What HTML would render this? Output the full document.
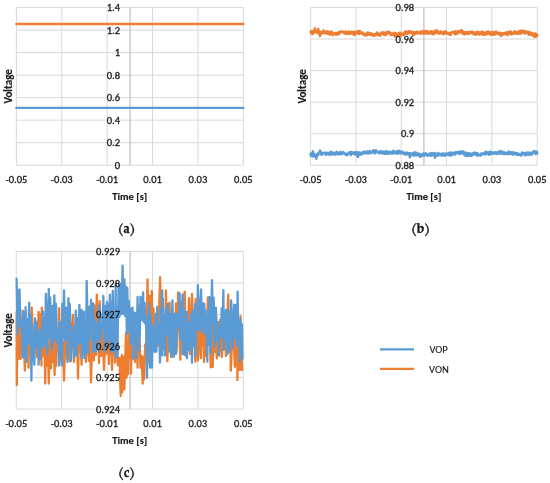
<!DOCTYPE html>
<html><head><meta charset="utf-8"><title>Figure</title>
<style>html,body{margin:0;padding:0;background:#fff;overflow:hidden;width:550px;height:483px;} svg{display:block;}</style>
</head><body>
<svg width="550" height="483" viewBox="0 0 550 483" font-family="Carlito, &apos;Liberation Sans&apos;, sans-serif" fill="#1a1a1a" stroke="#1a1a1a" stroke-width="0.3">
<rect width="550" height="483" fill="#fff" stroke="none"/>
<line x1="16.4" y1="7.60" x2="243.3" y2="7.60" stroke="#D9D9D9" stroke-width="1"/>
<line x1="16.4" y1="30.11" x2="243.3" y2="30.11" stroke="#D9D9D9" stroke-width="1"/>
<line x1="16.4" y1="52.63" x2="243.3" y2="52.63" stroke="#D9D9D9" stroke-width="1"/>
<line x1="16.4" y1="75.14" x2="243.3" y2="75.14" stroke="#D9D9D9" stroke-width="1"/>
<line x1="16.4" y1="97.66" x2="243.3" y2="97.66" stroke="#D9D9D9" stroke-width="1"/>
<line x1="16.4" y1="120.17" x2="243.3" y2="120.17" stroke="#D9D9D9" stroke-width="1"/>
<line x1="16.4" y1="142.69" x2="243.3" y2="142.69" stroke="#D9D9D9" stroke-width="1"/>
<line x1="16.4" y1="165.20" x2="243.3" y2="165.20" stroke="#D9D9D9" stroke-width="1"/>
<line x1="16.40" y1="7.6" x2="16.40" y2="165.2" stroke="#D9D9D9" stroke-width="1"/>
<line x1="61.78" y1="7.6" x2="61.78" y2="165.2" stroke="#D9D9D9" stroke-width="1"/>
<line x1="107.16" y1="7.6" x2="107.16" y2="165.2" stroke="#D9D9D9" stroke-width="1"/>
<line x1="152.54" y1="7.6" x2="152.54" y2="165.2" stroke="#D9D9D9" stroke-width="1"/>
<line x1="197.92" y1="7.6" x2="197.92" y2="165.2" stroke="#D9D9D9" stroke-width="1"/>
<line x1="243.30" y1="7.6" x2="243.30" y2="165.2" stroke="#D9D9D9" stroke-width="1"/>
<line x1="130.10" y1="7.6" x2="130.10" y2="165.2" stroke="#BFBFBF" stroke-width="1.2"/>
<polyline points="16.40,23.95 243.30,23.95" fill="none" stroke="#ED7D31" stroke-width="2.5" stroke-linejoin="round" stroke-linecap="round"/>
<polyline points="16.40,107.85 243.30,107.85" fill="none" stroke="#5B9BD5" stroke-width="2.4" stroke-linejoin="round" stroke-linecap="round"/>
<text x="120.0" y="7.60" dy="0.35em" text-anchor="end" font-size="10.5">1.4</text>
<text x="120.0" y="30.11" dy="0.35em" text-anchor="end" font-size="10.5">1.2</text>
<text x="120.0" y="52.63" dy="0.35em" text-anchor="end" font-size="10.5">1</text>
<text x="120.0" y="75.14" dy="0.35em" text-anchor="end" font-size="10.5">0.8</text>
<text x="120.0" y="97.66" dy="0.35em" text-anchor="end" font-size="10.5">0.6</text>
<text x="120.0" y="120.17" dy="0.35em" text-anchor="end" font-size="10.5">0.4</text>
<text x="120.0" y="142.69" dy="0.35em" text-anchor="end" font-size="10.5">0.2</text>
<text x="120.0" y="165.20" dy="0.35em" text-anchor="end" font-size="10.5">0</text>
<text x="16.40" y="179.3" dy="0.35em" text-anchor="middle" font-size="10.5">-0.05</text>
<text x="61.78" y="179.3" dy="0.35em" text-anchor="middle" font-size="10.5">-0.03</text>
<text x="107.16" y="179.3" dy="0.35em" text-anchor="middle" font-size="10.5">-0.01</text>
<text x="152.54" y="179.3" dy="0.35em" text-anchor="middle" font-size="10.5">0.01</text>
<text x="197.92" y="179.3" dy="0.35em" text-anchor="middle" font-size="10.5">0.03</text>
<text x="243.30" y="179.3" dy="0.35em" text-anchor="middle" font-size="10.5">0.05</text>
<line x1="310.6" y1="7.50" x2="537.2" y2="7.50" stroke="#D9D9D9" stroke-width="1"/>
<line x1="310.6" y1="39.06" x2="537.2" y2="39.06" stroke="#D9D9D9" stroke-width="1"/>
<line x1="310.6" y1="70.62" x2="537.2" y2="70.62" stroke="#D9D9D9" stroke-width="1"/>
<line x1="310.6" y1="102.18" x2="537.2" y2="102.18" stroke="#D9D9D9" stroke-width="1"/>
<line x1="310.6" y1="133.74" x2="537.2" y2="133.74" stroke="#D9D9D9" stroke-width="1"/>
<line x1="310.6" y1="165.30" x2="537.2" y2="165.30" stroke="#D9D9D9" stroke-width="1"/>
<line x1="310.60" y1="7.5" x2="310.60" y2="165.3" stroke="#D9D9D9" stroke-width="1"/>
<line x1="355.92" y1="7.5" x2="355.92" y2="165.3" stroke="#D9D9D9" stroke-width="1"/>
<line x1="401.24" y1="7.5" x2="401.24" y2="165.3" stroke="#D9D9D9" stroke-width="1"/>
<line x1="446.56" y1="7.5" x2="446.56" y2="165.3" stroke="#D9D9D9" stroke-width="1"/>
<line x1="491.88" y1="7.5" x2="491.88" y2="165.3" stroke="#D9D9D9" stroke-width="1"/>
<line x1="537.20" y1="7.5" x2="537.20" y2="165.3" stroke="#D9D9D9" stroke-width="1"/>
<line x1="423.90" y1="7.5" x2="423.90" y2="165.3" stroke="#BFBFBF" stroke-width="1.2"/>
<polyline points="310.60,31.82 311.07,32.85 311.55,30.98 312.02,33.52 312.49,34.05 312.97,32.61 313.44,32.92 313.91,30.83 314.38,31.38 314.86,28.60 315.33,31.58 315.80,31.26 316.28,32.35 316.75,31.43 317.22,32.33 317.70,32.80 318.17,29.00 318.64,33.36 319.12,31.19 319.59,31.60 320.06,36.00 320.53,32.14 321.01,32.02 321.48,32.69 321.95,32.56 322.43,33.11 322.90,32.70 323.37,30.59 323.85,33.23 324.32,31.74 324.79,32.52 325.27,31.67 325.74,32.70 326.21,33.36 326.68,32.01 327.16,31.48 327.63,33.68 328.10,31.52 328.58,33.60 329.05,32.40 329.52,33.41 330.00,34.55 330.47,33.29 330.94,31.61 331.42,33.47 331.89,32.25 332.36,33.10 332.83,35.12 333.31,33.65 333.78,33.62 334.25,33.52 334.73,33.48 335.20,33.13 335.67,33.92 336.15,34.73 336.62,33.49 337.09,33.11 337.56,33.60 338.04,34.04 338.51,32.26 338.98,33.98 339.46,32.80 339.93,31.71 340.40,31.50 340.88,31.88 341.35,32.11 341.82,31.78 342.30,31.63 342.77,31.51 343.24,32.05 343.71,32.70 344.19,33.21 344.66,33.41 345.13,31.82 345.61,33.35 346.08,31.70 346.55,33.86 347.03,32.78 347.50,32.50 347.97,33.32 348.45,32.14 348.92,31.62 349.39,33.59 349.86,33.66 350.34,33.66 350.81,33.34 351.28,31.83 351.76,32.17 352.23,32.43 352.70,32.53 353.18,33.97 353.65,31.78 354.12,34.56 354.60,34.89 355.07,34.23 355.54,32.21 356.01,33.51 356.49,32.62 356.96,31.67 357.43,31.35 357.91,33.47 358.38,30.99 358.85,33.96 359.33,33.64 359.80,31.08 360.27,33.22 360.75,33.16 361.22,32.99 361.69,32.94 362.16,32.49 362.64,33.01 363.11,34.46 363.58,33.65 364.06,34.70 364.53,35.25 365.00,35.24 365.48,34.63 365.95,35.29 366.42,33.56 366.90,34.36 367.37,34.90 367.84,32.60 368.31,33.07 368.79,32.91 369.26,33.34 369.73,34.50 370.21,33.93 370.68,35.00 371.15,33.40 371.63,33.74 372.10,35.15 372.57,34.30 373.05,34.37 373.52,35.13 373.99,35.76 374.46,35.00 374.94,34.45 375.41,35.16 375.88,34.10 376.36,33.58 376.83,32.72 377.30,33.77 377.78,35.02 378.25,33.53 378.72,33.50 379.19,33.89 379.67,34.77 380.14,35.68 380.61,35.16 381.09,34.22 381.56,32.62 382.03,33.11 382.51,32.83 382.98,32.67 383.45,32.43 383.93,34.76 384.40,34.42 384.87,35.06 385.34,35.08 385.82,32.51 386.29,34.55 386.76,32.34 387.24,32.16 387.71,32.47 388.18,31.91 388.66,31.66 389.13,33.53 389.60,32.77 390.08,32.54 390.55,33.05 391.02,35.09 391.49,33.56 391.97,34.50 392.44,34.66 392.91,33.80 393.39,34.20 393.86,32.74 394.33,34.82 394.81,36.50 395.28,34.99 395.75,33.45 396.23,34.80 396.70,35.05 397.17,35.99 397.64,34.20 398.12,35.85 398.59,33.69 399.06,32.98 399.54,33.24 400.01,33.87 400.48,32.96 400.96,35.83 401.43,33.81 401.90,34.91 402.38,33.84 402.85,34.24 403.32,34.34 403.79,34.78 404.27,32.32 404.74,33.79 405.21,33.94 405.69,31.60 406.16,31.55 406.63,33.34 407.11,32.22 407.58,33.73 408.05,33.23 408.53,31.43 409.00,32.36 409.47,32.68 409.94,31.22 410.42,32.13 410.89,31.61 411.36,32.96 411.84,33.11 412.31,31.78 412.78,31.78 413.26,34.53 413.73,34.80 414.20,33.01 414.68,32.84 415.15,33.67 415.62,32.16 416.09,33.37 416.57,33.02 417.04,31.61 417.51,33.28 417.99,33.17 418.46,32.94 418.93,32.85 419.41,33.10 419.88,31.80 420.35,32.48 420.83,33.58 421.30,33.11 421.77,32.36 422.24,31.12 422.72,33.26 423.19,33.33 423.66,31.90 424.14,33.50 424.61,31.14 425.08,33.23 425.56,31.95 426.03,32.44 426.50,33.34 426.97,31.05 427.45,31.87 427.92,33.50 428.39,33.35 428.87,32.40 429.34,33.48 429.81,33.08 430.29,31.36 430.76,32.47 431.23,32.72 431.71,33.46 432.18,31.31 432.65,34.30 433.12,32.14 433.60,32.73 434.07,33.80 434.54,33.47 435.02,32.25 435.49,30.56 435.96,32.84 436.44,32.06 436.91,31.78 437.38,30.67 437.86,32.42 438.33,32.53 438.80,33.63 439.27,33.27 439.75,32.72 440.22,31.77 440.69,31.42 441.17,31.80 441.64,33.51 442.11,33.58 442.59,32.81 443.06,33.66 443.53,32.37 444.01,34.23 444.48,32.55 444.95,31.67 445.42,31.33 445.90,31.93 446.37,33.12 446.84,32.88 447.32,33.42 447.79,33.78 448.26,32.99 448.74,34.21 449.21,33.53 449.68,34.05 450.16,33.04 450.63,34.80 451.10,32.69 451.57,32.65 452.05,32.47 452.52,31.83 452.99,32.08 453.47,31.96 453.94,31.95 454.41,33.74 454.89,31.70 455.36,31.38 455.83,34.36 456.31,32.79 456.78,31.86 457.25,31.53 457.72,31.12 458.20,33.35 458.67,32.17 459.14,31.64 459.62,31.59 460.09,31.94 460.56,30.97 461.04,32.41 461.51,30.24 461.98,31.04 462.46,30.81 462.93,33.91 463.40,31.93 463.87,34.11 464.35,34.34 464.82,32.38 465.29,33.18 465.77,32.18 466.24,33.76 466.71,32.19 467.19,33.29 467.66,33.50 468.13,33.34 468.61,33.98 469.08,31.94 469.55,33.06 470.02,32.19 470.50,33.04 470.97,32.94 471.44,32.63 471.92,31.53 472.39,32.64 472.86,33.66 473.34,32.15 473.81,34.11 474.28,34.11 474.75,32.68 475.23,32.73 475.70,32.66 476.17,34.69 476.65,32.14 477.12,31.95 477.59,33.66 478.07,32.12 478.54,33.69 479.01,32.35 479.49,34.60 479.96,32.93 480.43,34.28 480.90,33.19 481.38,31.89 481.85,33.93 482.32,31.80 482.80,32.58 483.27,34.73 483.74,32.76 484.22,34.65 484.69,34.12 485.16,34.22 485.64,32.76 486.11,32.00 486.58,34.32 487.05,32.20 487.53,33.63 488.00,31.62 488.47,31.54 488.95,33.30 489.42,33.62 489.89,33.32 490.37,34.59 490.84,32.72 491.31,32.24 491.79,32.09 492.26,34.55 492.73,34.68 493.20,32.88 493.68,32.22 494.15,34.32 494.62,32.71 495.10,34.34 495.57,33.98 496.04,31.69 496.52,31.99 496.99,33.32 497.46,33.58 497.94,32.85 498.41,33.45 498.88,34.27 499.35,33.17 499.83,33.71 500.30,32.74 500.77,34.80 501.25,35.84 501.72,34.26 502.19,33.40 502.67,34.32 503.14,34.48 503.61,33.32 504.09,34.12 504.56,33.78 505.03,33.25 505.50,32.82 505.98,33.95 506.45,32.26 506.92,32.66 507.40,35.05 507.87,34.18 508.34,32.37 508.82,31.81 509.29,31.74 509.76,33.35 510.24,32.53 510.71,34.27 511.18,31.68 511.65,32.88 512.13,34.08 512.60,33.49 513.07,33.32 513.55,33.49 514.02,32.32 514.49,31.46 514.97,32.59 515.44,33.43 515.91,32.90 516.38,33.56 516.86,32.06 517.33,32.10 517.80,32.68 518.28,33.74 518.75,31.53 519.22,31.83 519.70,33.54 520.17,30.90 520.64,31.69 521.12,33.37 521.59,32.90 522.06,30.71 522.53,31.98 523.01,31.33 523.48,30.79 523.95,32.24 524.43,32.95 524.90,33.50 525.37,33.45 525.85,31.20 526.32,31.49 526.79,31.77 527.27,32.50 527.74,32.62 528.21,32.23 528.68,34.66 529.16,32.42 529.63,32.15 530.10,34.23 530.58,33.71 531.05,32.81 531.52,35.07 532.00,33.91 532.47,33.45 532.94,33.43 533.42,35.80 533.89,33.81 534.36,36.79 534.83,36.80 535.31,33.57 535.78,34.01 536.25,35.87 536.73,36.37 537.20,35.04" fill="none" stroke="#ED7D31" stroke-width="2.6" stroke-linejoin="round" stroke-linecap="round"/>
<polyline points="310.60,154.10 311.07,155.91 311.55,153.30 312.02,153.29 312.49,152.80 312.97,151.40 313.44,156.55 313.91,154.10 314.38,154.58 314.86,155.75 315.33,154.72 315.80,156.04 316.28,158.60 316.75,154.96 317.22,155.49 317.70,153.60 318.17,155.05 318.64,152.73 319.12,153.05 319.59,153.16 320.06,150.60 320.53,153.56 321.01,152.39 321.48,154.82 321.95,154.38 322.43,153.23 322.90,153.29 323.37,152.90 323.85,152.72 324.32,153.45 324.79,152.81 325.27,153.65 325.74,154.89 326.21,154.68 326.68,152.80 327.16,152.86 327.63,153.09 328.10,153.96 328.58,153.24 329.05,153.82 329.52,154.86 330.00,153.39 330.47,151.82 330.94,153.09 331.42,152.27 331.89,154.43 332.36,152.64 332.83,152.71 333.31,153.05 333.78,154.38 334.25,152.78 334.73,153.36 335.20,153.74 335.67,154.56 336.15,152.51 336.62,152.91 337.09,151.96 337.56,152.62 338.04,153.27 338.51,154.46 338.98,153.84 339.46,153.82 339.93,153.56 340.40,151.82 340.88,153.11 341.35,154.28 341.82,154.12 342.30,153.64 342.77,152.98 343.24,152.00 343.71,152.90 344.19,153.15 344.66,153.70 345.13,153.84 345.61,154.75 346.08,153.96 346.55,154.37 347.03,155.19 347.50,153.66 347.97,153.48 348.45,153.49 348.92,153.46 349.39,152.43 349.86,152.84 350.34,152.05 350.81,154.95 351.28,152.13 351.76,152.57 352.23,153.14 352.70,152.54 353.18,153.62 353.65,152.62 354.12,152.30 354.60,153.93 355.07,154.47 355.54,154.72 356.01,152.79 356.49,152.06 356.96,152.29 357.43,154.41 357.91,157.00 358.38,152.57 358.85,152.94 359.33,152.67 359.80,153.42 360.27,154.76 360.75,153.30 361.22,153.06 361.69,152.63 362.16,153.94 362.64,152.33 363.11,152.96 363.58,153.47 364.06,151.86 364.53,151.52 365.00,152.94 365.48,152.31 365.95,152.59 366.42,153.01 366.90,153.27 367.37,151.23 367.84,153.17 368.31,152.90 368.79,153.30 369.26,151.45 369.73,151.17 370.21,152.79 370.68,152.19 371.15,153.23 371.63,152.28 372.10,151.80 372.57,151.89 373.05,150.76 373.52,150.34 373.99,151.11 374.46,152.72 374.94,153.32 375.41,152.77 375.88,150.38 376.36,152.30 376.83,151.78 377.30,151.94 377.78,152.03 378.25,151.89 378.72,151.92 379.19,153.29 379.67,151.78 380.14,152.55 380.61,151.36 381.09,152.56 381.56,151.67 382.03,151.67 382.51,153.48 382.98,152.33 383.45,151.59 383.93,151.79 384.40,153.81 384.87,152.38 385.34,153.70 385.82,151.46 386.29,151.29 386.76,151.30 387.24,153.24 387.71,153.70 388.18,153.49 388.66,152.06 389.13,151.77 389.60,153.25 390.08,151.92 390.55,152.87 391.02,153.23 391.49,152.79 391.97,153.56 392.44,151.69 392.91,151.83 393.39,150.77 393.86,151.45 394.33,153.36 394.81,153.11 395.28,152.78 395.75,152.27 396.23,152.93 396.70,151.32 397.17,153.73 397.64,153.00 398.12,151.02 398.59,152.15 399.06,150.82 399.54,153.26 400.01,151.27 400.48,153.41 400.96,152.33 401.43,152.47 401.90,151.79 402.38,151.99 402.85,153.38 403.32,153.00 403.79,152.61 404.27,154.24 404.74,153.09 405.21,154.09 405.69,152.92 406.16,154.47 406.63,153.40 407.11,152.72 407.58,153.63 408.05,154.27 408.53,153.30 409.00,153.57 409.47,153.21 409.94,157.30 410.42,154.28 410.89,153.86 411.36,153.31 411.84,154.43 412.31,153.66 412.78,154.29 413.26,154.63 413.73,155.58 414.20,153.06 414.68,152.34 415.15,154.10 415.62,155.28 416.09,153.85 416.57,152.93 417.04,155.11 417.51,153.47 417.99,155.05 418.46,153.93 418.93,154.24 419.41,153.84 419.88,156.71 420.35,154.82 420.83,154.47 421.30,156.36 421.77,155.19 422.24,155.55 422.72,154.94 423.19,153.57 423.66,155.34 424.14,155.59 424.61,154.98 425.08,154.88 425.56,153.29 426.03,153.83 426.50,154.76 426.97,155.22 427.45,155.63 427.92,154.15 428.39,154.39 428.87,155.19 429.34,155.23 429.81,153.61 430.29,153.91 430.76,155.79 431.23,154.79 431.71,153.07 432.18,155.31 432.65,155.25 433.12,153.67 433.60,153.46 434.07,154.83 434.54,153.09 435.02,157.60 435.49,153.89 435.96,153.77 436.44,154.53 436.91,154.96 437.38,155.59 437.86,155.24 438.33,153.11 438.80,154.50 439.27,154.13 439.75,155.19 440.22,155.01 440.69,154.03 441.17,155.27 441.64,154.12 442.11,155.50 442.59,153.64 443.06,154.25 443.53,154.38 444.01,153.52 444.48,155.77 444.95,155.81 445.42,153.71 445.90,153.94 446.37,153.44 446.84,153.62 447.32,153.82 447.79,154.93 448.26,154.72 448.74,153.16 449.21,152.86 449.68,155.19 450.16,155.53 450.63,153.81 451.10,152.53 451.57,153.23 452.05,154.99 452.52,153.13 452.99,154.50 453.47,153.87 453.94,153.78 454.41,153.12 454.89,152.35 455.36,154.47 455.83,152.80 456.31,152.14 456.78,152.85 457.25,152.63 457.72,152.41 458.20,152.48 458.67,153.53 459.14,151.66 459.62,153.73 460.09,152.57 460.56,153.68 461.04,152.19 461.51,151.35 461.98,152.65 462.46,152.55 462.93,151.53 463.40,154.11 463.87,152.10 464.35,154.39 464.82,153.78 465.29,154.93 465.77,155.74 466.24,152.75 466.71,154.98 467.19,154.29 467.66,155.98 468.13,154.72 468.61,153.23 469.08,155.56 469.55,155.56 470.02,154.03 470.50,153.72 470.97,155.12 471.44,155.94 471.92,153.71 472.39,154.72 472.86,154.74 473.34,152.96 473.81,153.90 474.28,154.13 474.75,152.65 475.23,153.92 475.70,154.20 476.17,154.84 476.65,155.27 477.12,153.13 477.59,155.46 478.07,154.10 478.54,154.71 479.01,154.83 479.49,155.04 479.96,155.45 480.43,154.88 480.90,155.33 481.38,153.60 481.85,153.36 482.32,154.18 482.80,153.96 483.27,153.76 483.74,154.05 484.22,153.42 484.69,154.21 485.16,152.29 485.64,154.33 486.11,151.85 486.58,153.59 487.05,152.13 487.53,153.24 488.00,153.42 488.47,152.42 488.95,154.67 489.42,152.40 489.89,153.60 490.37,151.79 490.84,152.89 491.31,153.97 491.79,152.66 492.26,153.47 492.73,153.57 493.20,153.31 493.68,152.31 494.15,153.60 494.62,153.05 495.10,152.59 495.57,152.32 496.04,152.83 496.52,153.92 496.99,153.92 497.46,152.23 497.94,152.44 498.41,152.23 498.88,153.37 499.35,151.66 499.83,151.02 500.30,153.79 500.77,153.43 501.25,152.81 501.72,152.11 502.19,151.58 502.67,151.69 503.14,153.99 503.61,153.68 504.09,153.74 504.56,152.50 505.03,152.76 505.50,154.05 505.98,153.83 506.45,153.00 506.92,153.32 507.40,152.94 507.87,152.56 508.34,154.13 508.82,151.48 509.29,152.04 509.76,153.10 510.24,153.67 510.71,153.06 511.18,152.24 511.65,154.03 512.13,154.28 512.60,152.72 513.07,152.41 513.55,154.46 514.02,152.99 514.49,152.78 514.97,153.39 515.44,153.79 515.91,153.43 516.38,152.92 516.86,154.79 517.33,153.26 517.80,154.98 518.28,154.74 518.75,154.34 519.22,154.12 519.70,154.64 520.17,154.79 520.64,154.37 521.12,155.50 521.59,155.10 522.06,152.46 522.53,154.28 523.01,153.26 523.48,153.93 523.95,153.17 524.43,154.26 524.90,155.01 525.37,153.02 525.85,155.24 526.32,152.89 526.79,154.69 527.27,153.93 527.74,152.60 528.21,153.86 528.68,153.11 529.16,154.88 529.63,153.15 530.10,152.57 530.58,153.19 531.05,153.87 531.52,154.52 532.00,153.89 532.47,153.85 532.94,151.97 533.42,152.00 533.89,151.24 534.36,151.63 534.83,151.54 535.31,151.72 535.78,154.08 536.25,152.33 536.73,151.84 537.20,153.28" fill="none" stroke="#5B9BD5" stroke-width="2.6" stroke-linejoin="round" stroke-linecap="round"/>
<text x="414.2" y="7.50" dy="0.35em" text-anchor="end" font-size="10.5">0.98</text>
<text x="414.2" y="39.06" dy="0.35em" text-anchor="end" font-size="10.5">0.96</text>
<text x="414.2" y="70.62" dy="0.35em" text-anchor="end" font-size="10.5">0.94</text>
<text x="414.2" y="102.18" dy="0.35em" text-anchor="end" font-size="10.5">0.92</text>
<text x="414.2" y="133.74" dy="0.35em" text-anchor="end" font-size="10.5">0.9</text>
<text x="414.2" y="165.30" dy="0.35em" text-anchor="end" font-size="10.5">0.88</text>
<text x="310.60" y="179.4" dy="0.35em" text-anchor="middle" font-size="10.5">-0.05</text>
<text x="355.92" y="179.4" dy="0.35em" text-anchor="middle" font-size="10.5">-0.03</text>
<text x="401.24" y="179.4" dy="0.35em" text-anchor="middle" font-size="10.5">-0.01</text>
<text x="446.56" y="179.4" dy="0.35em" text-anchor="middle" font-size="10.5">0.01</text>
<text x="491.88" y="179.4" dy="0.35em" text-anchor="middle" font-size="10.5">0.03</text>
<text x="537.20" y="179.4" dy="0.35em" text-anchor="middle" font-size="10.5">0.05</text>
<line x1="16.3" y1="251.40" x2="243.3" y2="251.40" stroke="#D9D9D9" stroke-width="1"/>
<line x1="16.3" y1="282.94" x2="243.3" y2="282.94" stroke="#D9D9D9" stroke-width="1"/>
<line x1="16.3" y1="314.48" x2="243.3" y2="314.48" stroke="#D9D9D9" stroke-width="1"/>
<line x1="16.3" y1="346.02" x2="243.3" y2="346.02" stroke="#D9D9D9" stroke-width="1"/>
<line x1="16.3" y1="377.56" x2="243.3" y2="377.56" stroke="#D9D9D9" stroke-width="1"/>
<line x1="16.3" y1="409.10" x2="243.3" y2="409.10" stroke="#D9D9D9" stroke-width="1"/>
<line x1="16.30" y1="251.4" x2="16.30" y2="409.1" stroke="#D9D9D9" stroke-width="1"/>
<line x1="61.70" y1="251.4" x2="61.70" y2="409.1" stroke="#D9D9D9" stroke-width="1"/>
<line x1="107.10" y1="251.4" x2="107.10" y2="409.1" stroke="#D9D9D9" stroke-width="1"/>
<line x1="152.50" y1="251.4" x2="152.50" y2="409.1" stroke="#D9D9D9" stroke-width="1"/>
<line x1="197.90" y1="251.4" x2="197.90" y2="409.1" stroke="#D9D9D9" stroke-width="1"/>
<line x1="243.30" y1="251.4" x2="243.30" y2="409.1" stroke="#D9D9D9" stroke-width="1"/>
<line x1="130.10" y1="251.4" x2="130.10" y2="409.1" stroke="#BFBFBF" stroke-width="1.2"/>
<polyline points="16.60,312.00 16.80,385.00 17.55,324.76 18.30,359.00 19.50,312.00 20.50,359.00 22.70,310.60 24.90,370.60 25.60,312.00 26.57,361.20 27.53,330.98 28.50,367.70 29.57,315.23 30.63,347.68 31.70,307.70 34.00,360.00 35.53,321.85 37.07,357.15 38.60,312.00 39.57,348.57 40.53,314.44 41.50,365.50 41.80,307.70 42.93,356.08 44.07,317.61 45.20,383.60 46.10,321.11 47.00,365.88 47.90,344.46 48.80,383.60 50.00,318.00 51.00,368.40 51.90,322.86 52.80,362.07 53.70,334.29 54.60,375.00 55.30,340.15 56.00,366.20 57.07,327.74 58.13,349.83 59.20,308.10 60.00,360.00 61.00,337.40 62.00,364.84 63.00,340.86 64.00,380.70 66.00,318.00 67.27,359.36 68.53,323.52 69.80,361.20 70.25,321.77 70.70,361.00 72.90,315.00 74.00,362.00 75.00,326.31 76.00,347.58 77.00,325.63 78.00,378.60 79.40,318.00 81.60,364.80 83.00,313.50 84.00,347.66 85.00,332.23 86.00,362.00 88.00,320.00 89.00,360.75 90.00,333.46 91.00,382.20 93.20,303.30 93.90,360.40 94.87,305.54 95.83,355.02 96.80,294.60 99.00,363.30 99.70,301.10 101.13,356.17 102.57,330.36 104.00,369.90 106.00,318.00 107.00,353.94 108.00,327.84 109.00,364.00 109.75,333.38 110.50,353.85 111.25,328.21 112.00,369.90 112.80,318.00 115.00,362.60 116.50,325.00 117.80,365.00 119.40,358.00 120.70,396.00 121.80,355.00 122.20,392.30 123.60,357.00 124.40,389.40 126.00,333.00 126.50,377.80 127.25,349.90 128.00,374.20 128.60,330.00 129.40,357.92 130.20,332.00 131.00,373.50 131.75,332.60 132.50,359.00 134.30,314.20 135.00,362.00 135.65,331.35 136.30,350.68 136.95,339.77 137.60,367.70 138.00,320.00 138.83,352.54 139.67,342.79 140.50,367.70 141.60,356.00 142.70,383.60 143.40,357.00 144.10,379.30 145.20,345.00 146.35,342.57 147.50,279.40 149.20,362.60 150.07,295.64 150.93,341.15 151.80,291.00 152.65,333.19 153.50,308.40 154.30,351.70 156.00,316.00 157.90,346.00 160.10,277.20 162.00,352.00 163.00,318.00 163.72,348.86 164.45,318.89 165.18,351.99 165.90,290.30 167.30,361.20 169.50,302.60 170.47,339.94 171.43,329.71 172.40,356.80 173.00,318.00 173.75,342.19 174.50,330.18 175.25,343.78 176.00,303.30 176.50,352.00 178.20,292.40 180.40,359.70 181.00,318.00 182.15,339.19 183.30,294.60 184.00,336.30 184.70,291.70 186.00,356.00 187.00,314.57 188.00,339.32 189.00,298.20 190.00,354.00 192.00,293.90 193.13,331.27 194.27,327.12 195.40,361.70 195.60,299.00 196.40,344.99 197.20,325.54 198.00,360.50 200.00,318.00 201.00,358.00 202.00,323.06 203.00,345.31 204.00,320.00 204.00,362.00 205.00,329.90 206.00,356.00 207.90,297.50 208.83,332.92 209.77,332.10 210.70,367.40 212.00,320.00 212.70,367.00 213.80,328.04 214.90,351.95 216.00,318.00 216.80,358.50 217.87,333.03 218.93,354.61 220.00,320.00 221.80,357.00 224.00,318.00 226.00,356.00 228.20,294.60 229.07,347.38 229.93,312.58 230.80,370.80 233.00,318.00 234.80,367.00 237.00,320.00 237.40,380.00 238.00,326.25 238.60,369.33 239.20,339.69 239.80,370.00 240.50,316.30 242.00,370.00" fill="none" stroke="#ED7D31" stroke-width="2.3" stroke-linejoin="round" stroke-linecap="round"/>
<polyline points="16.60,278.70 17.50,334.00 18.30,290.30 18.90,324.09 19.50,289.50 20.57,327.54 21.63,320.59 22.70,357.50 23.25,311.74 23.80,336.35 24.35,316.00 24.90,357.50 25.60,307.26 26.30,362.00 27.27,319.17 28.23,343.35 29.20,302.60 29.93,344.72 30.67,314.83 31.40,380.70 32.12,324.10 32.85,360.45 33.57,337.30 34.30,364.80 35.00,318.50 35.72,346.00 36.44,321.62 37.16,340.96 37.88,339.62 38.60,364.80 39.30,331.31 40.00,359.00 41.00,328.32 42.00,347.35 43.00,311.30 43.73,347.55 44.45,318.58 45.17,344.34 45.90,293.90 47.30,354.00 48.80,288.80 49.50,337.61 50.20,297.50 51.70,348.80 52.57,305.93 53.43,342.23 54.30,295.30 55.15,338.11 56.00,304.00 57.00,342.81 58.00,329.64 59.00,365.50 59.70,322.18 60.40,341.94 61.10,321.68 61.80,365.50 62.30,304.00 63.15,338.33 64.00,290.30 65.20,340.47 66.40,307.77 67.60,362.00 68.40,298.20 69.10,331.38 69.80,304.00 71.00,361.00 71.83,333.08 72.65,335.90 73.47,326.96 74.30,357.50 75.80,310.60 76.50,355.40 77.47,317.95 78.43,343.92 79.40,304.80 79.95,343.46 80.50,312.56 81.05,336.92 81.60,309.80 82.00,358.30 82.62,317.29 83.25,332.24 83.88,311.56 84.50,358.30 85.25,321.21 86.00,353.20 86.70,280.80 88.20,353.20 88.80,307.00 89.35,331.38 89.90,307.06 90.45,340.12 91.00,299.70 91.55,327.98 92.10,315.64 92.65,327.71 93.20,304.00 93.20,351.70 93.75,315.74 94.30,342.28 94.85,320.62 95.40,351.70 96.60,323.88 97.80,339.48 99.00,305.50 99.00,351.70 99.86,308.99 100.72,337.55 101.58,324.96 102.44,329.03 103.30,296.00 104.80,351.70 105.53,305.99 106.27,337.53 107.00,301.90 107.50,348.80 108.30,304.62 109.10,339.64 109.90,294.60 111.30,351.70 112.80,291.00 113.50,351.70 114.23,314.67 114.97,338.80 115.70,283.70 115.80,356.80 116.55,307.03 117.30,357.00 118.60,285.90 119.57,316.88 120.53,283.55 121.50,314.00 122.60,265.60 123.50,314.00 124.40,279.40 125.20,316.00 125.80,286.60 126.90,334.00 127.30,288.00 128.20,332.00 128.90,301.10 129.53,323.33 130.17,308.34 130.80,344.00 132.50,307.70 133.20,358.30 134.00,312.70 134.70,339.59 135.40,312.96 136.10,358.30 137.60,296.80 138.23,335.54 138.87,305.86 139.50,350.00 140.50,296.80 141.50,320.00 143.10,292.40 143.80,322.00 144.60,302.83 145.40,323.71 146.20,325.39 147.00,377.80 147.73,315.93 148.47,340.08 149.20,303.30 150.00,367.70 150.50,314.40 151.00,348.43 151.50,332.11 152.00,367.70 152.75,325.38 153.50,348.40 154.25,330.44 155.00,351.70 155.70,313.82 156.40,351.70 157.20,307.00 158.13,343.21 159.07,324.57 160.00,362.60 160.73,309.16 161.47,340.15 162.20,290.30 162.20,355.40 162.90,298.69 163.60,342.78 164.30,314.67 165.00,355.40 166.00,309.14 167.00,334.45 168.00,304.00 169.50,351.70 170.25,314.29 171.00,356.80 172.40,300.40 173.80,356.80 174.35,313.88 174.90,327.41 175.45,313.44 176.00,354.00 177.20,314.24 178.40,326.79 179.60,293.20 180.32,339.83 181.05,302.34 181.78,325.90 182.50,294.60 182.50,354.00 183.00,320.94 183.50,340.14 184.00,308.96 184.50,354.90 185.30,325.26 186.10,333.89 186.90,312.00 187.00,358.30 187.53,318.50 188.05,333.28 188.57,329.21 189.10,350.30 189.82,323.78 190.55,341.51 191.28,313.83 192.00,362.80 192.85,310.46 193.70,345.80 194.90,304.00 195.40,356.00 196.30,317.96 197.20,329.00 197.80,285.20 199.50,330.00 201.10,289.50 201.80,332.00 202.63,302.83 203.47,319.90 204.30,304.00 204.50,334.00 205.20,309.77 205.90,327.44 206.60,318.50 207.30,361.70 208.00,310.97 208.70,343.99 209.40,296.80 210.70,352.60 212.00,280.10 212.83,323.32 213.67,297.69 214.50,346.50 215.90,307.60 216.93,340.53 217.97,322.15 219.00,355.60 219.90,328.44 220.80,336.56 221.70,308.40 222.55,337.58 223.40,290.20 223.80,350.00 224.53,322.94 225.27,340.17 226.00,309.80 227.50,354.00 227.97,310.04 228.45,340.48 228.93,317.13 229.40,352.00 231.10,300.40 232.60,348.30 234.00,304.70 235.00,338.10 236.00,304.83 237.00,346.00 237.60,291.70 238.33,336.76 239.07,320.00 239.80,361.40 240.53,319.61 241.27,347.84 242.00,324.30 242.50,358.50" fill="none" stroke="#5B9BD5" stroke-width="2.3" stroke-linejoin="round" stroke-linecap="round"/>
<text x="120.0" y="251.40" dy="0.35em" text-anchor="end" font-size="10.5">0.929</text>
<text x="120.0" y="282.94" dy="0.35em" text-anchor="end" font-size="10.5">0.928</text>
<text x="120.0" y="314.48" dy="0.35em" text-anchor="end" font-size="10.5">0.927</text>
<text x="120.0" y="346.02" dy="0.35em" text-anchor="end" font-size="10.5">0.926</text>
<text x="120.0" y="377.56" dy="0.35em" text-anchor="end" font-size="10.5">0.925</text>
<text x="120.0" y="409.10" dy="0.35em" text-anchor="end" font-size="10.5">0.924</text>
<text x="16.30" y="423.2" dy="0.35em" text-anchor="middle" font-size="10.5">-0.05</text>
<text x="61.70" y="423.2" dy="0.35em" text-anchor="middle" font-size="10.5">-0.03</text>
<text x="107.10" y="423.2" dy="0.35em" text-anchor="middle" font-size="10.5">-0.01</text>
<text x="152.50" y="423.2" dy="0.35em" text-anchor="middle" font-size="10.5">0.01</text>
<text x="197.90" y="423.2" dy="0.35em" text-anchor="middle" font-size="10.5">0.03</text>
<text x="243.30" y="423.2" dy="0.35em" text-anchor="middle" font-size="10.5">0.05</text>
<text transform="translate(12.3,86.4) rotate(-90)" text-anchor="middle" font-size="11" font-weight="bold" stroke-width="0.15">Voltage</text>
<text x="129.8" y="199.7" text-anchor="middle" font-size="10.5" font-weight="bold" stroke-width="0.15">Time [s]</text>
<text transform="translate(305.8,86.4) rotate(-90)" text-anchor="middle" font-size="11" font-weight="bold" stroke-width="0.15">Voltage</text>
<text x="423.9" y="199.7" text-anchor="middle" font-size="10.5" font-weight="bold" stroke-width="0.15">Time [s]</text>
<text transform="translate(12.3,330.3) rotate(-90)" text-anchor="middle" font-size="11" font-weight="bold" stroke-width="0.15">Voltage</text>
<text x="129.8" y="444.0" text-anchor="middle" font-size="10.5" font-weight="bold" stroke-width="0.15">Time [s]</text>
<text x="126.3" y="233.3" text-anchor="middle" font-family="'TeX Gyre Pagella', 'Liberation Serif', serif" font-size="13" font-weight="bold" stroke-width="0.35" letter-spacing="-0.5">(a)</text>
<text x="420.3" y="233.3" text-anchor="middle" font-family="'TeX Gyre Pagella', 'Liberation Serif', serif" font-size="13" font-weight="bold" stroke-width="0.35" letter-spacing="-0.5">(b)</text>
<text x="126.3" y="477.0" text-anchor="middle" font-family="'TeX Gyre Pagella', 'Liberation Serif', serif" font-size="13" font-weight="bold" stroke-width="0.35" letter-spacing="-0.5">(c)</text>
<line x1="380" y1="349.3" x2="414" y2="349.3" stroke="#5B9BD5" stroke-width="2.2"/>
<line x1="380" y1="368.9" x2="414" y2="368.9" stroke="#ED7D31" stroke-width="2.2"/>
<text x="429.4" y="353.1" font-size="10.6" stroke-width="0.1">VOP</text>
<text x="429.1" y="373.0" font-size="10.6" stroke-width="0.1">VON</text>
</svg>
</body></html>
